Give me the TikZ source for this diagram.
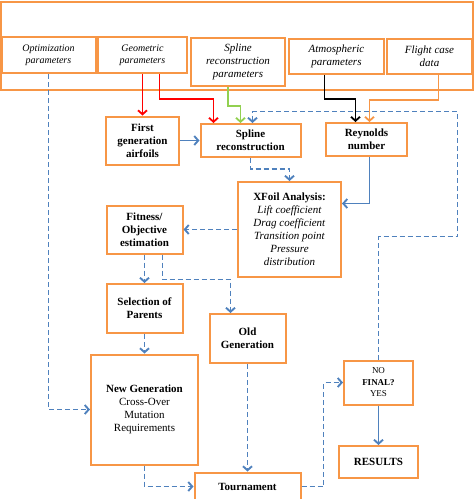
\documentclass[tikz,border=0pt]{standalone}
\usepackage{fontspec}
\setmainfont{Liberation Serif}
\usetikzlibrary{positioning,arrows.meta}
\definecolor{boxorange}{RGB}{247,150,70}
\definecolor{linkblue}{RGB}{79,129,189}
\definecolor{linkgreen}{RGB}{146,208,80}

\begin{document}
\begin{tikzpicture}[x=1pt,y=-1pt,>={Straight Barb[length=4pt,width=9pt]},
    thick,block node/.style={draw=boxorange,line width=2pt,fill=white,align=center,inner sep=1pt,font=\fontsize{11}{13}\selectfont\bfseries},
    param node/.style={block node,font=\fontsize{11}{13}\selectfont\itshape},
    link/.style={->,linkblue,line width=1.9pt}, dash link/.style={link,dash pattern=on 5pt off 3pt},
    feed/.style={->,line width=1.8pt}]

\useasboundingbox (0,0) rectangle (474,499);
\clip (0,0) rectangle (474,499);

\node[draw=boxorange,line width=1.5pt,minimum width=472pt,minimum height=88pt,inner sep=0pt] (inputs) at (237,46) {};
\node[param node,font=\fontsize{10}{12}\selectfont\itshape,minimum width=94pt,minimum height=36pt] (opt) at (48.5,55) {Optimization\\parameters};
\node[param node,font=\fontsize{10}{12}\selectfont\itshape,minimum width=89pt,minimum height=36pt] (geo) at (142.5,55) {Geometric\\parameters};
\node[param node,minimum width=94pt,minimum height=48pt] (splpar) at (238,62) {Spline\\reconstruction\\parameters};
\node[param node,minimum width=95pt,minimum height=35pt] (atm) at (336.5,56.5) {Atmospheric\\parameters};
\node[param node,minimum width=85pt,minimum height=35pt] (flight) at (429.5,56.5) {Flight case\\data};

\node[block node,minimum width=73pt,minimum height=48pt] (first) at (142.5,140.5) {First\\generation\\airfoils};
\node[block node,minimum width=100pt,minimum height=33pt] (spline) at (250.5,140.5) {Spline\\reconstruction};
\node[block node,minimum width=81pt,minimum height=33pt] (reyn) at (366.5,139.5) {Reynolds\\number};
\node[block node,minimum width=103pt,minimum height=95pt] (xfoil) at (289.5,229.5) {XFoil Analysis:\\\textit{\mdseries Lift coefficient}\\\textit{\mdseries Drag coefficient}\\\textit{\mdseries Transition point}\\\textit{\mdseries Pressure}\\\textit{\mdseries distribution}};
\node[block node,minimum width=76pt,minimum height=48pt] (fit) at (144.5,229.5) {Fitness/\\Objective\\estimation};
\node[block node,minimum width=76pt,minimum height=49pt] (sel) at (144.5,308.5) {Selection of\\Parents};
\node[block node,minimum width=76pt,minimum height=49pt] (old) at (247.5,338.5) {Old\\Generation};
\node[block node,minimum width=107pt,minimum height=110pt] (newgen) at (144.5,409.5) {New Generation\\\textmd{Cross-Over}\\\textmd{Mutation}\\\textmd{Requirements}};
\node[block node,minimum width=106pt,minimum height=28pt] (tour) at (247.5,486.5) {Tournament};
\node[block node,font=\fontsize{9}{11.5}\selectfont\bfseries,minimum width=69pt,minimum height=44pt] (final) at (378.5,382.5) {\textmd{NO}\\FINAL?\\\textmd{YES}};
\node[block node,minimum width=79pt,minimum height=32pt] (results) at (378.5,462) {RESULTS};

% inputs
\draw[feed,red] (geo.south) -- (first.north);
\draw[feed,red] ([xshift=17pt]geo.south) -- ++(0,25) -| ([xshift=-37pt]spline.north);
\draw[feed,linkgreen] ([xshift=-10pt]splpar.south) -- ++(0,19) -| ([xshift=-10pt]spline.north);
\draw[feed,black] ([xshift=-12pt]atm.south) -- ++(0,24) -| ([xshift=-11pt]reyn.north);
\draw[feed,boxorange] ([xshift=9pt]flight.south) -- ++(0,25) -| ([xshift=3pt]reyn.north);

% main loop
\draw[link] (first.east) -- (first.east -| spline.west);
\draw[dash link] (spline.south) -- ++(0,11) -| (xfoil.north);
\draw[link] ([xshift=3pt]reyn.south) |- ([yshift=26pt]xfoil.east);
\draw[dash link] (xfoil.west) -- (xfoil.west -| fit.east);
\draw[dash link] (fit.south) -- (fit.south |- sel.north);
\draw[dash link] ([xshift=18pt]fit.south) -- ++(0,25) -| ([xshift=-17pt]old.north);
\draw[dash link] (sel.south) -- (sel.south |- newgen.north);
\draw[dash link] (opt.south) |- (newgen.west);
\draw[dash link] (old.south) -- (tour.north);
\draw[dash link] (newgen.south) |- (tour.west);
\draw[dash link] (tour.east) -- ++(22,0) |- (final.west);
\draw[link] (final.south) -- (results.north);
\coordinate (loopdown) at (457.5,236.5);
\coordinate (loopup) at (457.5,111.5);
\draw[dash link] (final.north) |- (loopdown) -- (loopup) -| ([xshift=2pt]spline.north);
\end{tikzpicture}
\end{document}
